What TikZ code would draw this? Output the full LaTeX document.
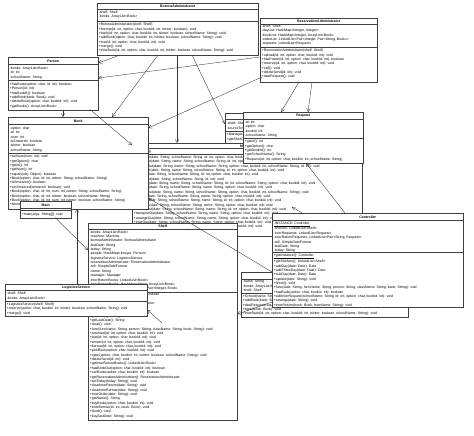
\documentclass[tikz,border=0pt]{standalone}
\usepackage{fontspec}
\setmainfont{Liberation Sans}
\usetikzlibrary{calc,arrows.meta}
\newcommand\cf{\fontsize{3.5pt}{4.35pt}\selectfont}
\tikzset{
 cls/.style={draw=black!75, line width=0.4pt, fill=white, anchor=north west, inner sep=0pt, rectangle},
 sepline/.style={draw=black!75, line width=0.3pt},
 ttl/.style={inner sep=0pt, font=\cf\bfseries, anchor=center},
 txt/.style={inner sep=0pt, font=\cf, anchor=north west, align=left, execute at begin node=\strut},
 conn/.style={draw=black!80, line width=0.35pt, -{Straight Barb[length=3.2pt,width=3.6pt]}},
}
\newcommand\umlclass[5]{\node[cls, minimum width=#4pt, minimum height=#5pt] (#1) at (#2,#3) {};}
\newcommand\usep[2]{\draw[sepline] ($(#1.north west)+(0,#2)$) -- ($(#1.north east)+(0,#2)$);}
\newcommand\utitle[3]{\node[ttl] (#1-t) at ($(#1.north)+(0,#2)$) {#3};}
\newcommand\utext[4]{\node[txt] (#1-#2) at ($(#1.north west)+(1.6,#3-1.85)$) {#4};}
\begin{document}
\begin{tikzpicture}[x=1pt,y=-1pt]
\fill[white] (0,0) rectangle (474,436);
\useasboundingbox (0,0) rectangle (474,436);

% Manager
\umlclass{Manager}{225}{113}{95}{35}
\utitle{Manager}{3.5}{Manager}
\usep{Manager}{6.5}\usep{Manager}{18.5}
\utext{Manager}{a}{11}{-shelf: Shelf\\-sourceToShelf: HashMap<String, Shelf>}
\utext{Manager}{m}{22}{+Manager(shelf: Shelf)\\+getShelf(name: String): Shelf}

% Machine
\umlclass{Machine}{132}{143}{230}{92.5}
\utitle{Machine}{3.2}{Machine}
\usep{Machine}{5.6}\usep{Machine}{11}
\utext{Machine}{a}{8}{day: String}
\utext{Machine}{m}{14.5}{+queryOut(date: String, schoolName: String, id: int, option: char, bookId: int): void\\
+refuseOut(date: String, name: String, schoolName: String, id: int, option: char, bookId: int): void\\
+reserveOut(date: String, name: String, schoolName: String, option: char, bookId: int, schoolName: String, id: int): void\\
+returnOut(date: String, name: String, schoolName: String, id: int, option: char, bookId: int): void\\
+lostOut(date: String, schoolName: String, id: int, option: char, bookId: int): void\\
+smearOut(date: String, schoolName: String, id: int): void\\
+backOut(date: String, name: String, schoolName: String, id: int, schoolName: String, option: char, bookId: int): void\\
+sendOut(date: String, schoolName: String, name: String, option: char, bookId: int): void\\
+receiveOut(date: String, name: String, schoolName: String, option: char, bookId: int, schoolName: String): void\\
+buyOut(date: String, schoolName: String, name: String, option: char, bookId: int): void\\
+pickOut(date: String, schoolName: String, name: String, id: int, option: char, bookId: int): void\\
+orderOut(date: String, schoolName: String, name: String, option: char, bookId: int): void\\
+borrowOut(date: String, schoolName: String, name: String, id: int, option: char, bookId: int): void\\
+transportOut(date: String, schoolName: String, name: String, option: char, bookId: int): void\\
+arrangeOut(date: String, schoolName: String, name: String, option: char, bookId: int): void\\
+interOut(date: String, schoolName: String, name: String, option: char, bookId: int): void\\
+repairOut(date: String, schoolName: String, id: int, option: char, bookId: int): void\\
+Machine()}

% Request
\umlclass{Request}{243}{112}{120}{51}
\utitle{Request}{4}{Request}
\usep{Request}{7}\usep{Request}{26.5}
\utext{Request}{a}{10.5}{-id: int\\-option: char\\-bookId: int\\-schoolName: String}
\utext{Request}{m}{30}{+getId(): int\\+getOption(): char\\+getBookId(): int\\+getSchoolName(): String\\+Request(id: int, option: char, bookId: int, schoolName: String)}

% Shelf
\umlclass{Shelf}{88}{223}{149}{197}
\utitle{Shelf}{3}{Shelf}
\usep{Shelf}{5.8}\usep{Shelf}{68.8}
\utext{Shelf}{a}{9.3}{-books: ArrayList<Book>\\-machine: Machine\\-borrowAdministrator: BorrowAdministrator\\-lastDate: String\\-today: String\\-people: HashMap<Integer, Person>\\-logisticsService: LogisticsService\\-reservationAdministrator: ReservationAdministrator\\-sdf: SimpleDateFormat\\-name: String\\-manager: Manager\\-interReturnBooks: LinkedList<Book>\\-interBorrowBooks: HashMap<String, ArrayList<Book>>\\-interOrderBooks: HashMap<String, Pair<Integer, Book>>}
\utext{Shelf}{m}{71.5}{+hasBook(option: char, bookId: int): boolean\\
+Shelf(name: String)\\
+getPeople(): HashMap<Integer, Person>\\
+getBooks(): ArrayList<Book>\\
+getMachine(): Machine\\
+getToday(): String\\
+getLastDate(): String\\
+clear(): void\\
+func(funcName: String, person: String, className: String, book: String): void\\
+returned(id: int, option: char, bookId: int): void\\
+lost(id: int, option: char, bookId: int): void\\
+smear(id: int, option: char, bookId: int): void\\
+borrow(id: int, option: char, bookId: int): void\\
+pickBook(option: char, bookId: int): void\\
+open(option: char, bookId: int, isInter: boolean, schoolName: String): void\\
+deleteSend(id: int): void\\
+getInterReturnBooks(): LinkedList<Book>\\
+hasBookOut(option: char, bookId: int): boolean\\
+canBook(option: char, bookId: int): boolean\\
+getReservationAdministrator(): ReservationAdministrator\\
+setToday(today: String): void\\
+clearInterReturn(date: String): void\\
+clearInterBorrow(date: String): void\\
+interOrder(date: String): void\\
+getName(): String\\
+buyBook(option: char, bookId: int): void\\
+interBorrow(id: int, book: Book): void\\
+flood(): void\\
+buy(lastDate: String): void}

% LogisticsService
\umlclass{LS}{5}{284}{142}{32}
\utitle{LS}{3.5}{LogisticsService}
\usep{LS}{6.5}\usep{LS}{17.3}
\utext{LS}{a}{10}{-shelf: Shelf\\-books: ArrayList<Book>}
\utext{LS}{m}{20.5}{+LogisticsService(shelf: Shelf)\\+reserve(option: char, bookId: int, isInter: boolean, schoolName: String): void\\+merge(): void}

% School
\umlclass{School}{241}{272}{167}{45}
\utitle{School}{4}{School}
\usep{School}{7}\usep{School}{21.5}
\utext{School}{a}{10}{-name: String\\-books: ArrayList<Book>\\-shelf: Shelf}
\utext{School}{m}{24.5}{+School(name: String)\\+addBook(book: Book): void\\+dealRequest(request: Request): void\\+back(book: Book): void\\+interBack(id: int, option: char, bookId: int, isInter: boolean, schoolName: String): void}

% Controller
\umlclass{Controller}{272}{213}{191}{93.5}
\utitle{Controller}{4}{Controller}
\usep{Controller}{7}\usep{Controller}{39.5}
\utext{Controller}{a}{10.5}{\underline{-INSTANCE: Controller}\\-shelves: LinkedList<Shelf>\\-interRequests: LinkedList<Request>\\-interReturnRequests: LinkedList<Pair<String, Request>>\\-sdf: SimpleDateFormat\\-lastDate: String\\-today: String}
\utext{Controller}{m}{42.5}{\underline{+getInstance(): Controller}\\
+getShelves(): LinkedList<Shelf>\\
+addDay(date: Date): Date\\
+addThreeDay(date: Date): Date\\
+subDay(date: Date): Date\\
+update(date: String): void\\
+finish(): void\\
+func(date: String, funcName: String, person: String, className: String, book: String): void\\
+hasBook(option: char, bookId: int): boolean\\
+addInterRequest(schoolName: String, id: int, option: char, bookId: int): void\\
+arrange(date: String): void\\
+interReturn(book: Book, fromName: String): void}

% BorrowAdministrator
\umlclass{BA}{97}{3}{161}{52}
\utitle{BA}{3.2}{BorrowAdministrator}
\usep{BA}{6.3}\usep{BA}{18.6}
\utext{BA}{a}{9.5}{-shelf: Shelf\\-books: ArrayList<Book>}
\utext{BA}{m}{22}{+BorrowAdministrator(shelf: Shelf)\\
+borrow(id: int, option: char, bookId: int, isInter: boolean): void\\
+back(id: int, option: char, bookId: int, isInter: boolean, schoolName: String): void\\
+addBook(option: char, bookId: int, isInter: boolean, schoolName: String): void\\
+lost(id: int, option: char, bookId: int): void\\
+merge(): void\\
+interBack(id: int, option: char, bookId: int, isInter: boolean, schoolName: String): void}

% ReservationAdministrator
\umlclass{RA}{260}{18}{117}{64}
\utitle{RA}{3.2}{ReservationAdministrator}
\usep{RA}{6}\usep{RA}{29}
\utext{RA}{a}{8.5}{-shelf: Shelf\\-dayList: HashMap<Integer, Integer>\\-bookList: HashMap<Integer, ArrayList<Book>>\\-orderList: LinkedList<Pair<Integer, Pair<String, Book>>>\\-requests: LinkedList<Request>}
\utext{RA}{m}{33}{+ReservationAdministrator(shelf: Shelf)\\
+upload(id: int, option: char, bookId: int): void\\
+hasPower(id: int, option: char, bookId: int): boolean\\
+reserve(id: int, option: char, bookId: int): void\\
+call(): void\\
+deleteSend(id: int): void\\
+dealRequest(): void}

% Person
\umlclass{Person}{8}{57.5}{90}{52}
\utitle{Person}{3.5}{Person}
\usep{Person}{7}\usep{Person}{23}
\utext{Person}{a}{11}{-books: ArrayList<Book>\\-id: int\\-schoolName: String}
\utext{Person}{m}{27}{+hasBook(option: char, id: int): boolean\\+Person(id: int)\\+hasBookB(): boolean\\+addBook(book: Book): void\\+deleteBook(option: char, bookId: int): void\\+getBooks(): ArrayList<Book>}

% Book
\umlclass{Book}{8}{117}{140}{92}
\utitle{Book}{4}{Book}
\usep{Book}{7.5}\usep{Book}{36.5}
\utext{Book}{a}{11.5}{-option: char\\-id: int\\-num: int\\-isSmeared: boolean\\-isInter: boolean\\-schoolName: String}
\utext{Book}{m}{40}{+setNum(num: int): void\\
+getOption(): char\\
+getId(): int\\
+getNum(): int\\
+equals(obj: Object): boolean\\
+Book(option: char, id: int, isInter: String, schoolName: String)\\
+isSmeared(): boolean\\
+setSmeared(smeared: boolean): void\\
+Book(option: char, id: int, num: int, isInter: String, schoolName: String)\\
+Book(option: char, id: int, isInter: boolean, schoolName: String)\\
+Book(option: char, id: int, num: int, isInter: boolean, schoolName: String)\\
+isInter(): boolean}

% Main
\umlclass{Main}{20}{201}{51}{16.5}
\utitle{Main}{3.8}{Main}
\usep{Main}{7}\usep{Main}{9.5}
\utext{Main}{m}{12.7}{+main(args: String[]): void}

% connectors
\draw[conn] ($(BA.north west)+(23,52)$) -- ($(Person.north east)+(0,5.5)$);
\draw[conn] ($(RA.north west)+(0,39)$) -- ($(Person.north east)+(0,20.5)$);
\draw[conn] ($(BA.north west)+(61,52)$) -- ($(Book.north west)+(104,0)$);
\draw[conn] ($(BA.north west)+(80,52)$) -- ($(Machine.north west)+(45,0)$);
\draw[conn] ($(BA.north west)+(95,52)$) -- ($(Manager.north west)+(0,11)$);
\draw[conn] ($(RA.north west)+(2,59)$) -- ($(Book.north east)+(0,11)$);
\draw[conn] ($(RA.north west)+(39,64)$) -- ($(Request.north west)+(38,0)$);
\draw[conn] ($(RA.north west)+(52,64)$) -- ($(Request.north west)+(65,0)$);
\draw[conn] ($(Person.north west)+(55,52)$) -- ($(Book.north west)+(55,0)$);
\draw[conn] ($(Person.north west)+(82,52)$) -- ($(Machine.north west)+(0,2)$);
\draw[conn] ($(Controller.north west)+(0,59)$) -- ($(Book.north east)+(0,81)$);
\draw[conn] ($(LS.north west)+(72,0)$) -- ($(Book.north west)+(69,92)$);
\draw[conn] ($(Main.north west)+(35,16.5)$) -- ($(Shelf.north west)+(0,27)$);
\draw[conn] ($(Shelf.north west)+(74,100)$) -- ($(LS.north east)+(0,26)$);
\draw[conn] ($(Controller.north west)+(73,0)$) -- ($(Request.north west)+(63,51)$);
\draw[conn] ($(Controller.north west)+(30,0)$) -- ($(Machine.north west)+(160,64)$);
\draw[conn] ($(Controller.north west)+(0,89)$) -- ($(Shelf.north east)+(0,91)$);
\end{tikzpicture}
\end{document}
